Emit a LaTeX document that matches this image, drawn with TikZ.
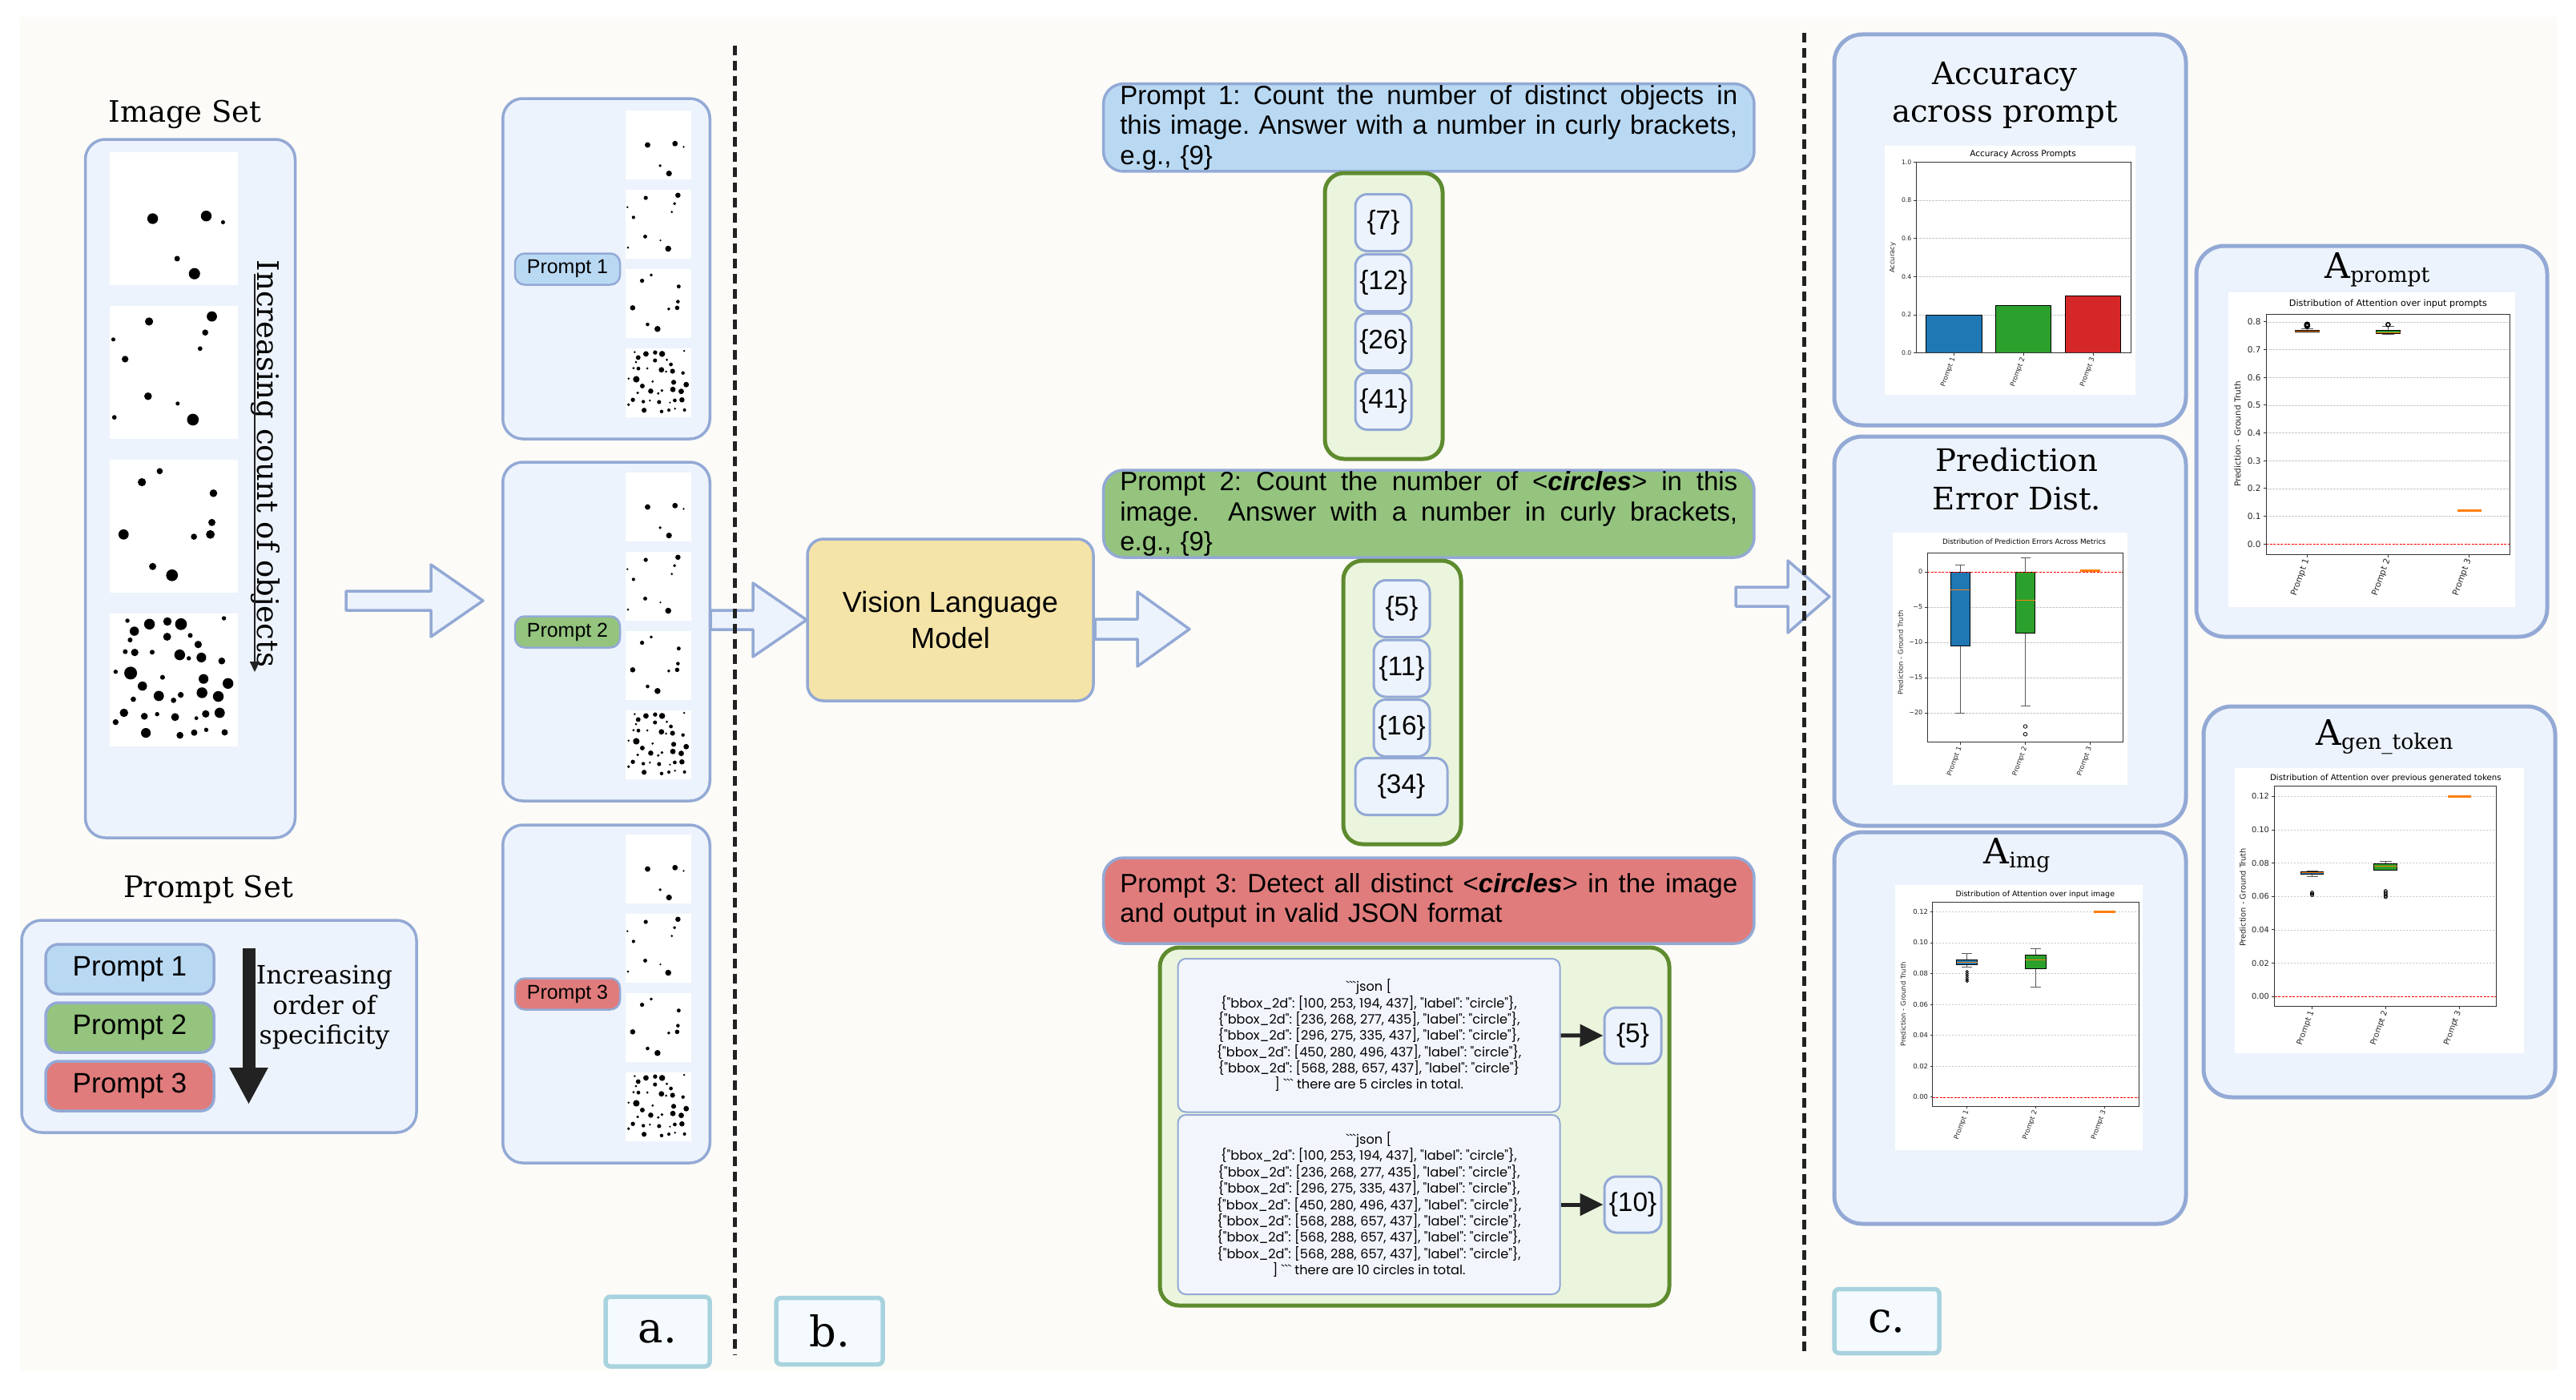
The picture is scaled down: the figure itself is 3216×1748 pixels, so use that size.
\documentclass[tikz,border=0pt]{standalone}
\usepackage{fontspec}
\setmainfont{DejaVu Serif}
\setsansfont{Liberation Sans}
\newfontfamily\plotfont{DejaVu Sans}
\newfontfamily\jsonfont{Poppins}
\frenchspacing
\usetikzlibrary{arrows.meta,positioning,shapes.geometric}
\definecolor{bgoff}{HTML}{FCFBF7}
\definecolor{panelfill}{HTML}{EDF3FC}
\definecolor{panelline}{HTML}{93A9D5}
\definecolor{p1fill}{HTML}{B9D9F3}
\definecolor{p2fill}{HTML}{94C47E}
\definecolor{p3fill}{HTML}{E07C7C}
\definecolor{vlmfill}{HTML}{F5E4A8}
\definecolor{outfill}{HTML}{EBF5DD}
\definecolor{outline}{HTML}{5E8B2E}
\definecolor{jsfill}{HTML}{F2F6FC}
\definecolor{tagfill}{HTML}{F4FAFE}
\definecolor{tagline}{HTML}{A8D3DE}
\definecolor{inkdark}{HTML}{222222}
\definecolor{mplblue}{HTML}{1F77B4}
\definecolor{mplgreen}{HTML}{2CA02C}
\definecolor{mplred}{HTML}{D62728}
\definecolor{mplorange}{HTML}{FF7F0E}
\tikzset{
  panel/.style={ draw=panelline, fill=panelfill, line width=0.35mm, rounded corners=2.5mm, inner sep=0 }
}
\tikzset{
  cpanel/.style={ draw=panelline, fill=panelfill, line width=0.5mm, rounded corners=3.5mm, minimum width=43.9mm, minimum height=48.8mm }
}
\tikzset{
  fatarr/.style={ draw=panelline, fill=panelfill, line width=0.35mm, line join=round }
}
\tikzset{
  headtxt/.style={ font=\fontsize{10.5}{12.6}\selectfont, inner sep=0, align=center },
  ctitle/.style={ font=\fontsize{11}{13.2}\selectfont, inner sep=0, align=center }
}
\tikzset{
  setpill/.style={ draw=panelline, line width=0.35mm, rounded corners=1.6mm, minimum width=21mm, minimum height=6.2mm, inner sep=0, font=\sffamily\fontsize{10}{12}\selectfont },
  plabel/.style={ draw=panelline, line width=0.25mm, rounded corners=1.2mm, minimum width=13.1mm, minimum height=3.9mm, inner sep=0, font=\sffamily\fontsize{7.1}{8}\selectfont }
}
\tikzset{
  promptbox/.style={ draw=panelline, line width=0.35mm, rounded corners=2.5mm, text width=77.1mm, inner xsep=2.07mm, inner ysep=0, align=left, font=\sffamily\fontsize{9.4}{10.7}\selectfont }
}
\tikzset{
  outbox/.style={ draw=outline, fill=outfill, line width=0.5mm, rounded corners=2.4mm, inner sep=0 },
  numpill/.style={ draw=panelline, fill=panelfill, line width=0.3mm, rounded corners=1.5mm, minimum width=7mm, minimum height=7.1mm, inner sep=0, font=\sffamily\fontsize{9.5}{11}\selectfont },
  jsonbox/.style={ draw=panelline, fill=jsfill, line width=0.2mm, rounded corners=1mm, minimum width=47.7mm, inner sep=0, align=center, font=\jsonfont\fontsize{4.6}{5.8}\selectfont }
}
\tikzset{
  blackarr/.style={ draw=inkdark, line width=0.5mm, -{Triangle[length=2.9mm,width=2.7mm]} },
  divider/.style={ draw=inkdark, line width=0.5mm, dash pattern=on 1.25mm off 0.65mm }
}
\tikzset{
  tagbox/.style={ draw=tagline, fill=tagfill, line width=0.55mm, rounded corners=0.6mm, inner sep=0, font=\fontsize{15}{16}\selectfont }
}
\tikzset{
  ticklab/.style={ font=\plotfont\fontsize{#1}{#1}\selectfont, inner sep=0, text=black!85 },
  ticklab/.default=2.2,
  plottitle/.style={ font=\plotfont\fontsize{#1}{#1}\selectfont, inner sep=0 },
  plottitle/.default=3,
  gridln/.style={ draw=black!22, line width=0.05mm, dash pattern=on 0.25mm off 0.15mm },
  frameln/.style={ draw=black!80, line width=0.08mm },
  barln/.style={ draw=black, line width=0.08mm },
  whisk/.style={ draw=black!65, line width=0.08mm },
  boxln/.style={ draw=black, line width=0.08mm },
  medln/.style={ draw=mplorange, line width=0.08mm },
  flier/.style={ draw=black, line width=0.08mm },
  redzero/.style={ draw=red, line width=0.06mm, dash pattern=on 0.3mm off 0.15mm }
}
\newcommand{\jline}[1]{\makebox[77.1mm][s]{\spaceskip=0pt\xspaceskip=0pt\relax #1}}
\newcommand{\dotsA}{0.335/0.500/0.042, 0.753/0.480/0.042, 0.884/0.527/0.016, 0.526/0.801/0.022, 0.661/0.914/0.044}
\newcommand{\dotsB}{0.307/0.117/0.032, 0.797/0.079/0.040, 0.745/0.200/0.024, 0.705/0.321/0.018, 0.028/0.252/0.016, 0.120/0.400/0.026, 0.299/0.679/0.030, 0.530/0.734/0.016, 0.649/0.855/0.046, 0.036/0.838/0.018}
\newcommand{\dotsC}{0.390/0.086/0.024, 0.251/0.169/0.032, 0.809/0.252/0.030, 0.797/0.472/0.028, 0.785/0.562/0.034, 0.657/0.579/0.024, 0.108/0.562/0.040, 0.335/0.803/0.028, 0.486/0.869/0.046}
\newcommand{\dotsD}{0.138/0.054/0.017, 0.310/0.080/0.042, 0.450/0.060/0.033, 0.556/0.080/0.046, 0.891/0.036/0.017, 0.192/0.133/0.036, 0.448/0.175/0.031, 0.628/0.165/0.019, 0.159/0.199/0.019, 0.690/0.233/0.029, 0.121/0.287/0.019, 0.195/0.293/0.029, 0.331/0.291/0.019, 0.546/0.311/0.042, 0.617/0.337/0.017, 0.715/0.331/0.038, 0.874/0.357/0.027, 0.046/0.438/0.017, 0.163/0.448/0.050, 0.412/0.480/0.019, 0.732/0.492/0.038, 0.923/0.526/0.042, 0.255/0.546/0.036, 0.383/0.620/0.040, 0.554/0.612/0.023, 0.498/0.653/0.021, 0.720/0.596/0.042, 0.847/0.624/0.042, 0.184/0.645/0.021, 0.111/0.747/0.033, 0.270/0.773/0.027, 0.370/0.757/0.017, 0.510/0.779/0.031, 0.676/0.787/0.015, 0.749/0.755/0.029, 0.858/0.747/0.040, 0.046/0.817/0.023, 0.282/0.898/0.038, 0.548/0.916/0.027, 0.659/0.896/0.025, 0.753/0.875/0.017, 0.897/0.894/0.025}
\newcommand{\dotimg}[5]{%
  \fill[white] ({#1},{#2}) rectangle ({#1+#3},{#2+#4});
  \foreach \u/\w/\r in #5 { \fill[black] ({#1+\u*#3},{#2+\w*#4}) circle[radius={\r*#3}]; }
}
\newcommand{\boxplt}[8]{%
  \draw[whisk] (#1,#6) -- (#1,#3) (#1,#4) -- (#1,#7) ({#1-#2/2},#6) -- ({#1+#2/2},#6) ({#1-#2/2},#7) -- ({#1+#2/2},#7);
  \draw[boxln, fill=#8] ({#1-#2},#3) rectangle ({#1+#2},#4);
  \draw[medln] ({#1-#2},#5) -- ({#1+#2},#5);
}
\newcommand{\attn}[1]{{\fontsize{12.5}{14}\selectfont A}\raisebox{-0.45mm}{\fontsize{7.6}{9}\selectfont #1}}
\begin{document}
\begin{tikzpicture}[x=0.1mm, y=-0.1mm]
      \useasboundingbox (0,0) rectangle (3216,1748);
      \fill[white] (0,0) rectangle (3216,1748);
      \fill[bgoff] (25,21) rectangle (3193,1711);

      \node[headtxt] (imgsettxt) at (231,143) {Image Set};
      \node[panel, minimum width=26.2mm, minimum height=87.2mm] (imgset) at (237.5,610) {};
      \dotimg{137}{190}{160}{166}{\dotsA}
      \dotimg{137}{382}{160}{166}{\dotsB}
      \dotimg{137}{574}{160}{166}{\dotsC}
      \dotimg{137}{766}{160}{166}{\dotsD}
      \node[font=\fontsize{10.5}{12}\selectfont, rotate=-90, anchor=base west, inner sep=0] (counttxt) at (321,324) {Increasing count of objects};
      \coordinate (cnt0) at (318,342);
      \coordinate (cnt1) at (318,839);
      \draw[line width=0.2mm, draw=inkdark, -{Triangle[length=1.3mm,width=1.2mm]}] (cnt0) -- (cnt1);

      \node[headtxt] (psettxt) at (260,1111) {Prompt Set};
      \node[panel, minimum width=49.3mm, minimum height=26.5mm] (pset) at (273.5,1281.5) {};
      \node[setpill, fill=p1fill] (sp1) at (162,1210) {Prompt 1};
      \node[setpill, fill=p2fill] (sp2) at (162,1283) {Prompt 2};
      \node[setpill, fill=p3fill] (sp3) at (162,1356) {Prompt 3};
      \coordinate (spec0) at (310.5,1184);
      \coordinate (spec1) at (310.5,1379);
      \draw[line width=1.6mm, draw=inkdark, -{Triangle[length=4.6mm,width=4.5mm]}] (spec0) -- (spec1);
      \node[align=center, font=\fontsize{9}{10.6}\selectfont, inner sep=0] (spectxt) at (405,1258) {Increasing\\order of\\specificity};

      \draw[fatarr] (432,738) -- (538,738) -- (538,705) -- (603,750) -- (538,795) -- (538,762) -- (432,762) -- cycle;

      \node[panel, minimum width=25.85mm, minimum height=42.5mm] (col1) at (757,335.5) {};
      \node[panel, minimum width=25.85mm, minimum height=42.3mm] (col2) at (757,788.5) {};
      \node[panel, minimum width=25.85mm, minimum height=42.2mm] (col3) at (757,1241) {};
      \foreach \t in {138,590,1042} {
        \dotimg{781}{\t}{82}{86}{\dotsA}
        \dotimg{781}{\t+99}{82}{86}{\dotsB}
        \dotimg{781}{\t+198}{82}{86}{\dotsC}
        \dotimg{781}{\t+297}{82}{86}{\dotsD}
      }
      \node[plabel, fill=p1fill] (lab1) at (708.5,336) {Prompt 1};
      \node[plabel, fill=p2fill] (lab2) at (708.5,789) {Prompt 2};
      \node[plabel, fill=p3fill] (lab3) at (708.5,1241) {Prompt 3};

      \draw[fatarr] (887,762) -- (940,762) -- (940,728) -- (1007,774) -- (940,820) -- (940,786) -- (887,786) -- cycle;
      \node[panel, fill=vlmfill, rounded corners=2mm, minimum width=35.7mm, minimum height=20.2mm, align=center, font=\sffamily\fontsize{10.3}{12.8}\selectfont] (vlm) at (1186.5,774) {Vision Language\\Model};
      \draw[fatarr] (1367,773) -- (1420,773) -- (1420,739) -- (1485,785.5) -- (1420,832) -- (1420,798) -- (1367,798) -- cycle;

      \node[promptbox, fill=p1fill, minimum height=10.94mm] (pr1) at (1783.75,159.3) {\jline{Prompt 1: Count the number of distinct objects in}\\\jline{this image. Answer with a number in curly brackets,}\\e.g., \{9\}};
      \node[outbox, minimum width=14.7mm, minimum height=35.7mm] (out1) at (1727.5,394.5) {};
      \node[numpill] (n7) at (1727,278) {\{7\}};
      \node[numpill] (n12) at (1727,353) {\{12\}};
      \node[numpill] (n26) at (1727,427) {\{26\}};
      \node[numpill] (n41) at (1727,501) {\{41\}};

      \node[promptbox, fill=p2fill, minimum height=10.9mm] (pr2) at (1783.75,641.5) {\jline{Prompt 2: Count the number of <\textbf{\textit{circles}}> in this}\\\jline{image.\ \ Answer with a number in curly brackets,}\\e.g., \{9\}};
      \node[outbox, minimum width=14.7mm, minimum height=35.4mm] (out2) at (1750.5,877) {};
      \node[numpill] (m5) at (1750,760) {\{5\}};
      \node[numpill] (m11) at (1750,834.5) {\{11\}};
      \node[numpill] (m16) at (1750,909) {\{16\}};
      \node[numpill, minimum width=11.5mm] (m34) at (1749.5,982) {\{34\}};

      \node[promptbox, fill=p3fill, minimum height=10.7mm, font=\sffamily\fontsize{9.4}{10.5}\selectfont] (pr3) at (1783.75,1124.5) {\jline{Prompt 3: Detect all distinct <\textbf{\textit{circles}}> in the image}\\and output in valid JSON format};
      \node[outbox, minimum width=63.6mm, minimum height=44.7mm] (out3) at (1766,1406.5) {};
      \node[jsonbox, minimum height=19.15mm] (js1) at (1709,1292.75) {\textasciigrave\textasciigrave\textasciigrave json [\\
        \{"bbox\_2d": [100, 253, 194, 437], "label": "circle"\},\\
        \{"bbox\_2d": [236, 268, 277, 435], "label": "circle"\},\\
        \{"bbox\_2d": [296, 275, 335, 437], "label": "circle"\},\\
        \{"bbox\_2d": [450, 280, 496, 437], "label": "circle"\},\\
        \{"bbox\_2d": [568, 288, 657, 437], "label": "circle"\}\\
        ] \textasciigrave\textasciigrave\textasciigrave\ there are 5 circles in total.};
      \node[jsonbox, minimum height=22.4mm] (js2) at (1709,1504) {\textasciigrave\textasciigrave\textasciigrave json [\\
        \{"bbox\_2d": [100, 253, 194, 437], "label": "circle"\},\\
        \{"bbox\_2d": [236, 268, 277, 435], "label": "circle"\},\\
        \{"bbox\_2d": [296, 275, 335, 437], "label": "circle"\},\\
        \{"bbox\_2d": [450, 280, 496, 437], "label": "circle"\},\\
        \{"bbox\_2d": [568, 288, 657, 437], "label": "circle"\},\\
        \{"bbox\_2d": [568, 288, 657, 437], "label": "circle"\},\\
        \{"bbox\_2d": [568, 288, 657, 437], "label": "circle"\},\\
        ] \textasciigrave\textasciigrave\textasciigrave\ there are 10 circles in total.};
      \node[numpill, minimum width=7.1mm, minimum height=7mm] (r5) at (2038.5,1293) {\{5\}};
      \node[numpill, minimum width=7.1mm, minimum height=7mm] (r10) at (2038.5,1504) {\{10\}};
      \draw[blackarr] (js1.east) -- (r5.west);
      \draw[blackarr] (js2.east) -- (r10.west);

      \draw[fatarr] (2167,733) -- (2232,733) -- (2232,700) -- (2284,745) -- (2232,790) -- (2232,757) -- (2167,757) -- cycle;

      \node[cpanel] (acc) at (2509.5,287) {};
      \node[cpanel, minimum height=48.6mm] (err) at (2509.5,788) {};
      \node[cpanel, minimum height=48.9mm] (aimg) at (2509.5,1283.5) {};
      \node[cpanel, minimum width=43.8mm] (aprm) at (2961,551) {};
      \node[cpanel] (agen) at (2970.5,1126) {};
      \node[ctitle] (acctxt) at (2503,119) {Accuracy\\across prompt};
      \node[ctitle, font=\fontsize{11}{13.7}\selectfont] (errtxt) at (2518,598) {Prediction\\Error Dist.};
      \node[ctitle] (aimgtxt) at (2518,1068) {\attn{img}};
      \node[ctitle] (aprmtxt) at (2968,337) {\attn{prompt}};
      \node[ctitle] (agentxt) at (2977,920) {\attn{gen\_token}};

      \fill[white] (2353,182) rectangle (2666,493);
      \foreach \v in {0.2,0.4,0.6,0.8} { \draw[gridln] (2392,{440.7-238.4*\v}) -- (2660,{440.7-238.4*\v}); }
      \draw[barln, fill=mplblue] (2404,440.7) rectangle (2474,{440.7-238.4*0.2});
      \draw[barln, fill=mplgreen] (2491,440.7) rectangle (2560.7,{440.7-238.4*0.25});
      \draw[barln, fill=mplred] (2578,440.7) rectangle (2647.7,{440.7-238.4*0.3});
      \draw[frameln] (2392,202.3) rectangle (2660,440.7);
      \foreach \v [count=\i] in {0.0,0.2,0.4,0.6,0.8,1.0} {
        \draw[frameln] (2392,{440.7-238.4*\v}) -- (2389,{440.7-238.4*\v});
        \node[ticklab, anchor=east] (acc-y\i) at (2387,{440.7-238.4*\v}) {\v};
      }
      \foreach \x [count=\i] in {2439,2526,2613} {
        \draw[frameln] (\x,440.7) -- (\x,443.7);
        \node[ticklab=2.4, rotate=70, anchor=east] (acc-x\i) at (\x,446) {Prompt \i};
      }
      \node[plottitle=3] (acc-ttl) at (2525.5,193) {Accuracy Across Prompts};
      \node[ticklab=2.4, rotate=90] (acc-yl) at (2363,321.7) {Accuracy};

      \fill[white] (2363,665) rectangle (2656,980);
      \foreach \v in {-5,-10,-15,-20} { \draw[gridln] (2406,{714-8.8*(\v)}) -- (2650,{714-8.8*(\v)}); }
      \boxplt{2447}{12}{714}{806.4}{736}{705.2}{890}{mplblue}
      \boxplt{2528.5}{12}{714}{790.6}{749.2}{696.4}{881.2}{mplgreen}
      \draw[flier] (2528.5,907) circle[radius=2.3];
      \draw[flier] (2528.5,916.7) circle[radius=2.3];
      \draw[medln, line width=0.25mm] (2597,712.7) -- (2621.7,712.7);
      \draw[redzero] (2406,714) -- (2650,714);
      \draw[frameln] (2406,690) rectangle (2650,926.7);
      \foreach \v/\s [count=\i] in {0/0,-5/−5,-10/−10,-15/−15,-20/−20} {
        \draw[frameln] (2406,{714-8.8*(\v)}) -- (2403,{714-8.8*(\v)});
        \node[ticklab=2.3, anchor=east] (err-y\i) at (2401,{714-8.8*(\v)}) {\s};
      }
      \foreach \x [count=\i] in {2447,2528.5,2609.3} {
        \draw[frameln] (\x,926.7) -- (\x,929.7);
        \node[ticklab=2.4, rotate=70, anchor=east] (err-x\i) at (\x,932) {Prompt \i};
      }
      \node[plottitle=2.5] (err-ttl) at (2527,676) {Distribution of Prediction Errors Across Metrics};
      \node[ticklab=2.4, rotate=90] (err-yl) at (2372.7,815) {Prediction - Ground Truth};

      \fill[white] (2366,1105) rectangle (2675,1436);
      \foreach \v in {0.02,0.04,0.06,0.08,0.10,0.12} { \draw[gridln] (2412.7,{1369.8-1929*\v}) -- (2670.2,{1369.8-1929*\v}); }
      \boxplt{2455.8}{13}{1198}{1203.9}{1201}{1190.4}{1207.8}{mplblue}
      \foreach \y in {1213,1215.5,1218,1220.5,1223,1225} { \draw[flier] (2455.8,\y) circle[radius=1.6]; }
      \boxplt{2541.4}{13}{1192.3}{1209.7}{1198}{1184.6}{1232.8}{mplgreen}
      \draw[medln, line width=0.25mm] (2613.5,1138.3) -- (2641,1138.3);
      \draw[redzero] (2412.7,1369.8) -- (2670.2,1369.8);
      \draw[frameln] (2412.7,1126.6) rectangle (2670.2,1381);
      \foreach \v [count=\i] in {0.00,0.02,0.04,0.06,0.08,0.10,0.12} {
        \draw[frameln] (2412.7,{1369.8-1929*\v}) -- (2409.7,{1369.8-1929*\v});
        \node[ticklab=2.4, anchor=east] (img-y\i) at (2407.7,{1369.8-1929*\v}) {\v};
      }
      \foreach \x [count=\i] in {2455.8,2541.4,2627} {
        \draw[frameln] (\x,1381) -- (\x,1384);
        \node[ticklab=2.4, rotate=70, anchor=east] (img-x\i) at (\x,1386) {Prompt \i};
      }
      \node[plottitle=2.7] (img-ttl) at (2540.8,1116.4) {Distribution of Attention over input image};
      \node[ticklab=2.4, rotate=90] (img-yl) at (2376,1254) {Prediction - Ground Truth};

      \fill[white] (2782,365) rectangle (3140,758);
      \foreach \v in {0.1,0.2,0.3,0.4,0.5,0.6,0.7,0.8} { \draw[gridln] (2829.2,{679.2-346.7*\v}) -- (3133,{679.2-346.7*\v}); }
      \boxplt{2880.3}{15.4}{411.9}{414}{413}{410.5}{414.7}{mplblue}
      \draw[flier, line width=0.2mm] (2880.3,405.3) circle[radius=2.8];
      \draw[flier, line width=0.2mm] (2880.3,406.8) circle[radius=2.8];
      \boxplt{2981.4}{15.4}{411.9}{416.7}{415}{407}{417.4}{mplgreen}
      \draw[flier, line width=0.15mm] (2981.4,405.3) circle[radius=2.5];
      \draw[medln, line width=0.25mm] (3067.6,637.6) -- (3097.8,637.6);
      \draw[redzero] (2829.2,679.2) -- (3133,679.2);
      \draw[frameln] (2829.2,392.2) rectangle (3133,692);
      \foreach \v [count=\i] in {0.0,0.1,0.2,0.3,0.4,0.5,0.6,0.7,0.8} {
        \draw[frameln] (2829.2,{679.2-346.7*\v}) -- (2825.7,{679.2-346.7*\v});
        \node[ticklab=3, anchor=east] (prm-y\i) at (2823.2,{679.2-346.7*\v}) {\v};
      }
      \foreach \x [count=\i] in {2880.3,2981.4,3082.4} {
        \draw[frameln] (\x,692) -- (\x,695.5);
        \node[ticklab=3, rotate=70, anchor=east] (prm-x\i) at (\x,698) {Prompt \i};
      }
      \node[plottitle=3.2] (prm-ttl) at (2981.4,379.5) {Distribution of Attention over input prompts};
      \node[ticklab=3, rotate=90] (prm-yl) at (2793.4,542) {Prediction - Ground Truth};

      \fill[white] (2790,959) rectangle (3151,1315);
      \foreach \v in {0.02,0.04,0.06,0.08,0.10,0.12} { \draw[gridln] (2839.6,{1244.1-2081.7*\v}) -- (3116.3,{1244.1-2081.7*\v}); }
      \boxplt{2886.5}{14}{1088}{1091.1}{1089.5}{1087}{1094.2}{mplblue}
      \foreach \y in {1114.5,1116,1117.5} { \draw[flier] (2886.5,\y) circle[radius=2]; }
      \boxplt{2978.3}{14.5}{1078}{1085.9}{1081}{1075.2}{1086.5}{mplgreen}
      \foreach \y in {1112.5,1114.5,1116.5,1118.5,1120} { \draw[flier] (2978.3,\y) circle[radius=2]; }
      \draw[medln, line width=0.25mm] (3056,994.3) -- (3085,994.3);
      \draw[redzero] (2839.6,1244.1) -- (3116.3,1244.1);
      \draw[frameln] (2839.6,981.6) rectangle (3116.3,1256.4);
      \foreach \v [count=\i] in {0.00,0.02,0.04,0.06,0.08,0.10,0.12} {
        \draw[frameln] (2839.6,{1244.1-2081.7*\v}) -- (2836.1,{1244.1-2081.7*\v});
        \node[ticklab=2.8, anchor=east] (gen-y\i) at (2833.6,{1244.1-2081.7*\v}) {\v};
      }
      \foreach \x [count=\i] in {2886.5,2978.3,3070} {
        \draw[frameln] (\x,1256.4) -- (\x,1259.9);
        \node[ticklab=2.8, rotate=70, anchor=east] (gen-x\i) at (\x,1262) {Prompt \i};
      }
      \node[plottitle=2.9] (gen-ttl) at (2978.3,971.4) {Distribution of Attention over previous generated tokens};
      \node[ticklab=2.8, rotate=90] (gen-yl) at (2800,1120.5) {Prediction - Ground Truth};

      \coordinate (sepa0) at (917,57);
      \coordinate (sepa1) at (917,1692);
      \draw[divider] (sepa0) -- (sepa1);
      \coordinate (sepb0) at (2252,41);
      \coordinate (sepb1) at (2252,1692);
      \draw[divider] (sepb0) -- (sepb1);

      \node[tagbox, minimum width=13mm, minimum height=8.7mm] (taga) at (821,1662.5) {a.};
      \node[tagbox, minimum width=13.3mm, minimum height=8.3mm] (tagb) at (1035.5,1662) {b.};
      \node[tagbox, minimum width=13.1mm, minimum height=8mm] (tagc) at (2355.5,1649.5) {c.};
    \end{tikzpicture}
\end{document}
